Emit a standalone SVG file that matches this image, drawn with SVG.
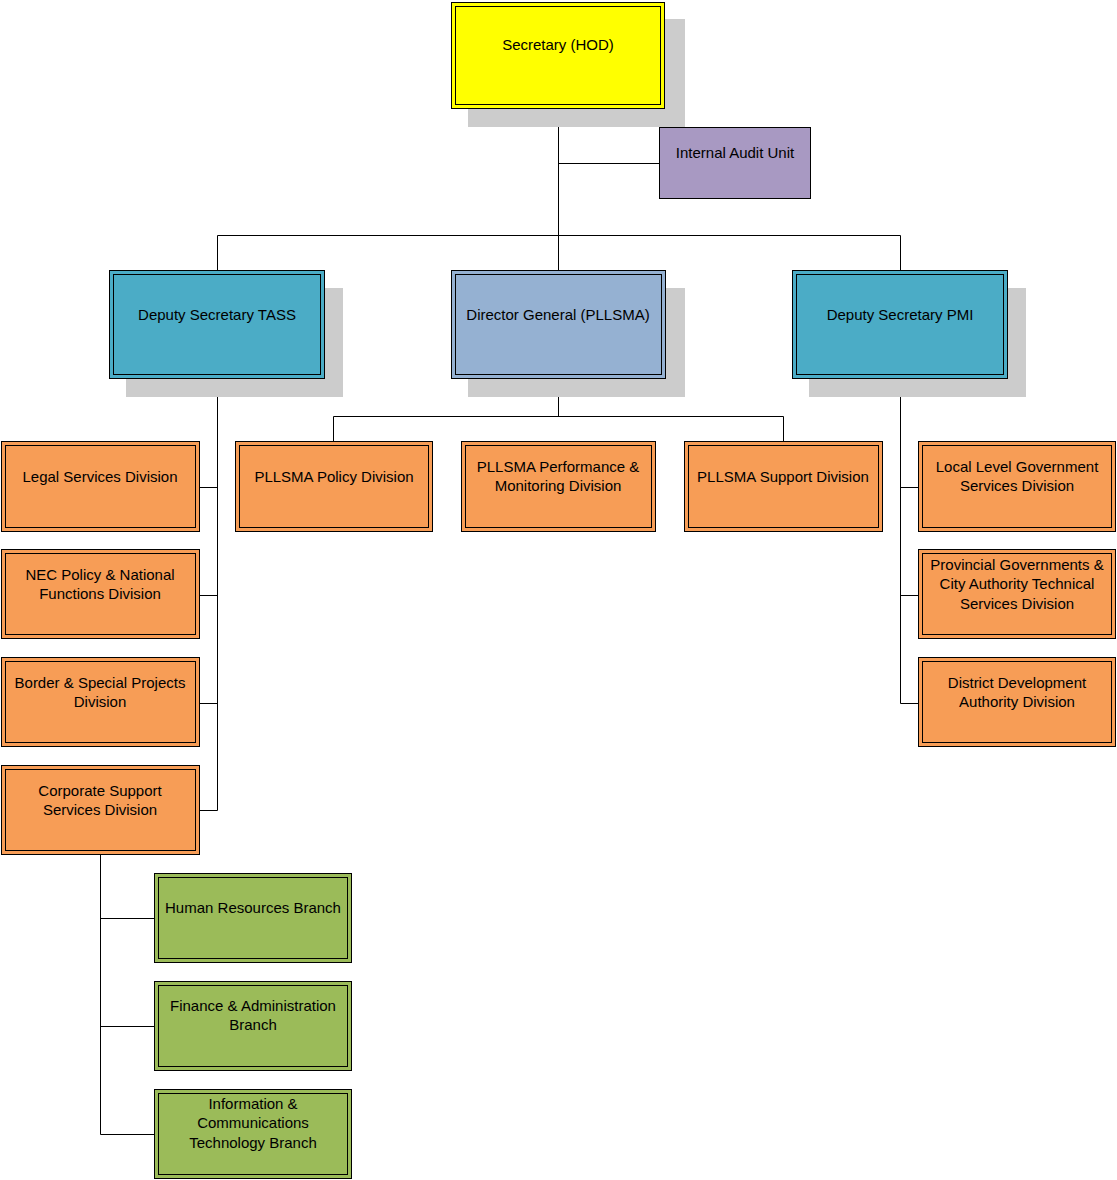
<svg xmlns="http://www.w3.org/2000/svg" width="1117" height="1180" viewBox="0 0 1117 1180">
<style>
.o{stroke:#000;stroke-width:1}
.i{fill:none;stroke:#000;stroke-width:1}
.sh{fill:#cccccc}
.y{fill:#ffff00}.b{fill:#4bacc6}.g{fill:#95b1d2}.or{fill:#f79d56}.gr{fill:#9bbb59}.p{fill:#a899c2}
text{font-family:"Liberation Sans",Arial,sans-serif;font-size:15px;text-anchor:middle;fill:#000}
#connectors path{fill:none;stroke:#000;stroke-width:1}
</style>
<rect width="1117" height="1180" fill="#fff"/>
<g id="connectors">
<path d="M558.5 108V270M558.5 163.5H659M217.5 270V235.5H900.5V270"/>
<path d="M217.5 378V810.5M199 487.5H217.5M199 595.5H217.5M199 703.5H217.5M199 810.5H217.5"/>
<path d="M558.5 378V416.5M333.5 441V416.5H783.5V441"/>
<path d="M900.5 378V703.5H918M900.5 487.5H918M900.5 595.5H918"/>
<path d="M100.5 854V1134.5H154M100.5 918.5H154M100.5 1026.5H154"/>
</g>
<g id="secretary"><rect class="sh" x="468" y="19" width="217" height="108"/><rect class="o y" x="451.5" y="2.5" width="213" height="106"/><rect class="i" x="455.5" y="6.5" width="205" height="98"/><text x="558" y="50">Secretary (HOD)</text></g>
<g id="audit"><rect class="o p" x="659.5" y="127.5" width="151" height="71"/><text x="735" y="158">Internal Audit Unit</text></g>
<g id="tass"><rect class="sh" x="126" y="288" width="217" height="109"/><rect class="o b" x="109.5" y="270.5" width="215" height="108"/><rect class="i" x="113.5" y="274.5" width="207" height="100"/><text x="217" y="320">Deputy Secretary TASS</text></g>
<g id="dg"><rect class="sh" x="468" y="288" width="217" height="109"/><rect class="o g" x="451.5" y="270.5" width="214" height="108"/><rect class="i" x="455.5" y="274.5" width="206" height="100"/><text x="558" y="320">Director General (PLLSMA)</text></g>
<g id="pmi"><rect class="sh" x="809" y="288" width="217" height="109"/><rect class="o b" x="792.5" y="270.5" width="215" height="108"/><rect class="i" x="796.5" y="274.5" width="207" height="100"/><text x="900" y="320">Deputy Secretary PMI</text></g>
<g id="legal"><rect class="o or" x="1.5" y="441.5" width="198" height="90"/><rect class="i" x="5.5" y="445.5" width="190" height="82"/><text x="100" y="482">Legal Services Division</text></g>
<g id="nec"><rect class="o or" x="1.5" y="549.5" width="198" height="89"/><rect class="i" x="5.5" y="553.5" width="190" height="81"/><text x="100" y="580">NEC Policy &amp; National</text><text x="100" y="599">Functions Division</text></g>
<g id="border"><rect class="o or" x="1.5" y="657.5" width="198" height="89"/><rect class="i" x="5.5" y="661.5" width="190" height="81"/><text x="100" y="688">Border &amp; Special Projects</text><text x="100" y="707">Division</text></g>
<g id="corporate"><rect class="o or" x="1.5" y="765.5" width="198" height="89"/><rect class="i" x="5.5" y="769.5" width="190" height="81"/><text x="100" y="796">Corporate Support</text><text x="100" y="815">Services Division</text></g>
<g id="policy"><rect class="o or" x="235.5" y="441.5" width="197" height="90"/><rect class="i" x="239.5" y="445.5" width="189" height="82"/><text x="334" y="482">PLLSMA Policy Division</text></g>
<g id="perf"><rect class="o or" x="461.5" y="441.5" width="194" height="90"/><rect class="i" x="465.5" y="445.5" width="186" height="82"/><text x="558" y="472">PLLSMA Performance &amp;</text><text x="558" y="491">Monitoring Division</text></g>
<g id="support"><rect class="o or" x="684.5" y="441.5" width="198" height="90"/><rect class="i" x="688.5" y="445.5" width="190" height="82"/><text x="783" y="482">PLLSMA Support Division</text></g>
<g id="llg"><rect class="o or" x="918.5" y="441.5" width="197" height="90"/><rect class="i" x="922.5" y="445.5" width="189" height="82"/><text x="1017" y="472">Local Level Government</text><text x="1017" y="491">Services Division</text></g>
<g id="prov"><rect class="o or" x="918.5" y="549.5" width="197" height="89"/><rect class="i" x="922.5" y="553.5" width="189" height="81"/><text x="1017" y="570">Provincial Governments &amp;</text><text x="1017" y="589">City Authority Technical</text><text x="1017" y="609">Services  Division</text></g>
<g id="dda"><rect class="o or" x="918.5" y="657.5" width="197" height="89"/><rect class="i" x="922.5" y="661.5" width="189" height="81"/><text x="1017" y="688">District Development</text><text x="1017" y="707">Authority Division</text></g>
<g id="hr"><rect class="o gr" x="154.5" y="873.5" width="197" height="89"/><rect class="i" x="158.5" y="877.5" width="189" height="81"/><text x="253" y="913">Human Resources Branch</text></g>
<g id="fin"><rect class="o gr" x="154.5" y="981.5" width="197" height="89"/><rect class="i" x="158.5" y="985.5" width="189" height="81"/><text x="253" y="1011">Finance &amp; Administration</text><text x="253" y="1030">Branch</text></g>
<g id="ict"><rect class="o gr" x="154.5" y="1089.5" width="197" height="89"/><rect class="i" x="158.5" y="1093.5" width="189" height="81"/><text x="253" y="1109">Information &amp;</text><text x="253" y="1128">Communications</text><text x="253" y="1148">Technology Branch</text></g>
</svg>
